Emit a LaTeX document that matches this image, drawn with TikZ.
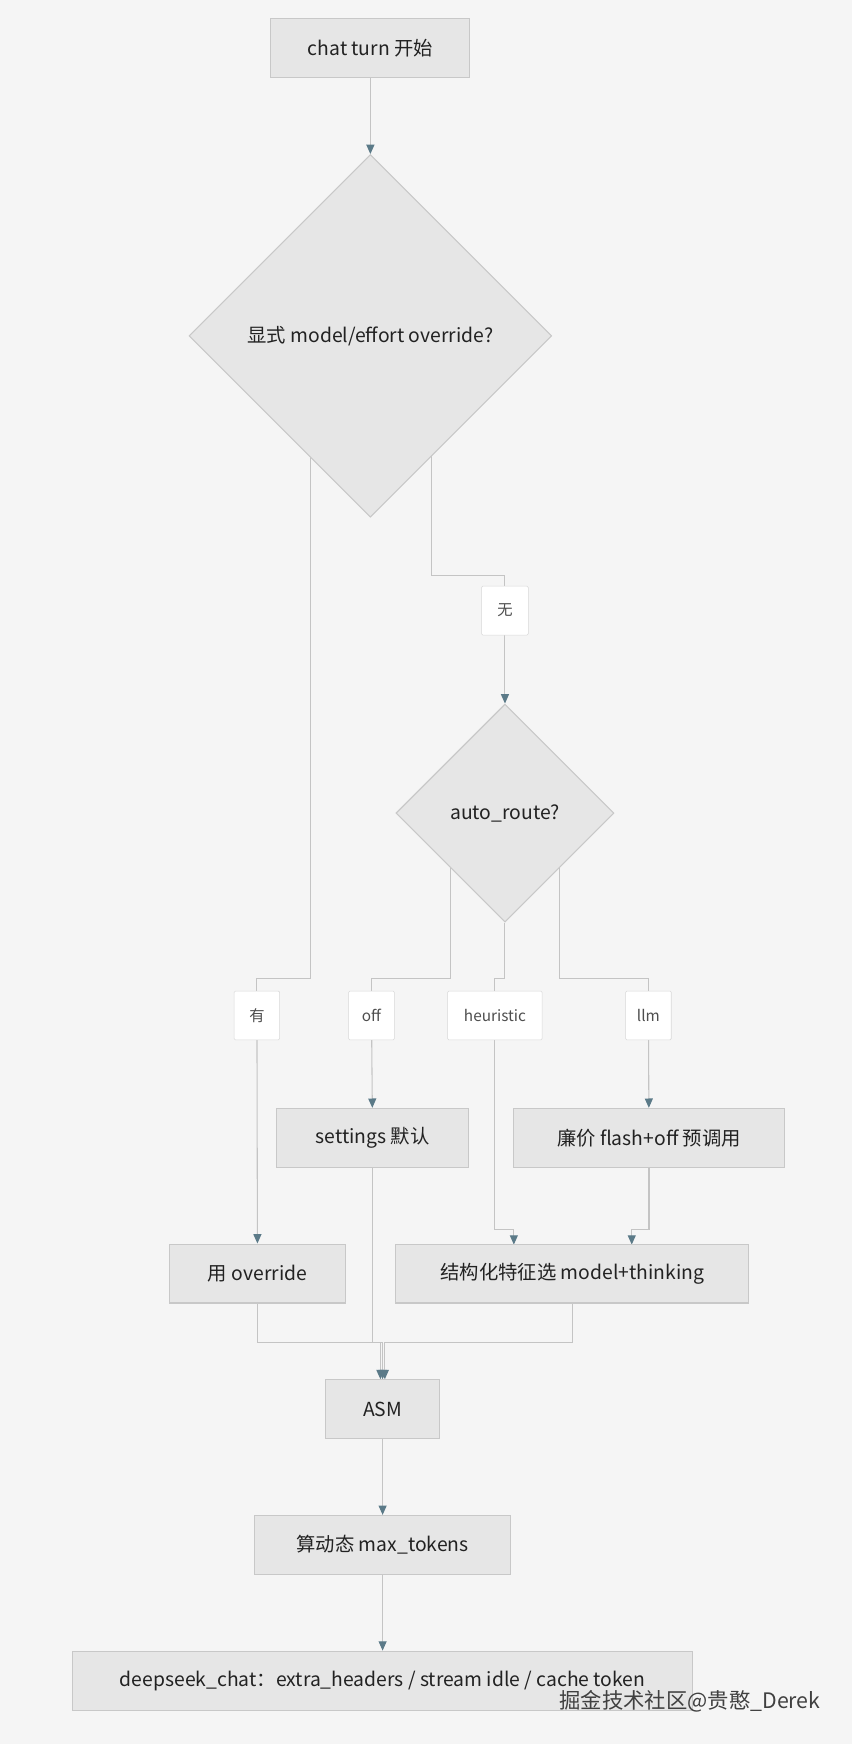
\documentclass[tikz,border=0pt]{standalone}
\usepackage{fontspec}
\setmainfont{Noto Sans CJK SC}
\usetikzlibrary{shapes.geometric,arrows.meta,backgrounds}
\def\uu{0.834pt}
\definecolor{bg}{HTML}{F5F5F5}
\definecolor{boxf}{HTML}{E6E6E6}
\definecolor{boxd}{HTML}{C8C8C8}
\definecolor{ln}{HTML}{C4C4C4}
\definecolor{arr}{HTML}{5B7A88}
\definecolor{txt}{HTML}{222222}
\tikzset{
 box/.style={draw=boxd,fill=boxf,line width=0.8pt,text=txt,font=\fontsize{14.5}{17}\selectfont,inner sep=0pt},
 dia/.style={diamond,draw=boxd,fill=boxf,line width=0.8pt,text=txt,font=\fontsize{14.5}{17}\selectfont,inner sep=0pt},
 lab/.style={draw=boxd!70,fill=white,text=txt!80,font=\fontsize{11.5}{13}\selectfont,inner sep=0pt,minimum height={44*\uu},rounded corners=1pt},
 edge/.style={draw=ln,line width=0.8pt},
 ar/.style={edge,-{Triangle[length=7pt,width=6pt,color=arr]}},
}
\begin{document}
\begin{tikzpicture}[x=\uu,y=-\uu]
\useasboundingbox (0,0) rectangle (766,1568);
\node[box,minimum width={179*\uu},minimum height={53*\uu}] (start) at (333,43) {chat turn 开始};
\node[dia,minimum width={326*\uu},minimum height={326*\uu}] (d1) at (333,302) {显式 model/effort override?};
\node[lab,minimum width={42*\uu}] (wu) at (454,549) {无};
\node[dia,minimum width={196*\uu},minimum height={196*\uu}] (d2) at (454,731) {auto\_route?};
\node[lab,minimum width={41*\uu}] (you) at (231,913) {有};
\node[lab,minimum width={41*\uu}] (off) at (334,913) {off};
\node[lab,minimum width={85*\uu}] (heu) at (445,913) {heuristic};
\node[lab,minimum width={41*\uu}] (llm) at (583,913) {llm};
\node[box,minimum width={172*\uu},minimum height={53*\uu}] (set) at (335,1023) {settings 默认};
\node[box,minimum width={243*\uu},minimum height={53*\uu}] (cheap) at (583.5,1023) {廉价 flash+off 预调用};
\node[box,minimum width={159*\uu},minimum height={53*\uu}] (ovr) at (231.5,1145) {用 override};
\node[box,minimum width={317*\uu},minimum height={53*\uu}] (feat) at (514.5,1145) {结构化特征选 model+thinking};
\node[box,minimum width={102*\uu},minimum height={53*\uu}] (asm) at (344,1267) {ASM};
\node[box,minimum width={230*\uu},minimum height={53*\uu}] (mt) at (344,1389) {算动态 max\_tokens};
\node[box,minimum width={558*\uu},minimum height={53*\uu}] (ds) at (344,1511) {deepseek\_chat：extra\_headers / stream idle / cache token};
\node[text=black!75,font=\fontsize{16}{19}\selectfont,anchor=east] (wm) at (742,1530) {掘金技术社区@贵憨\_Derek};
\begin{scope}[on background layer]
\fill[bg] (0,0) rectangle (766,1568);
\draw[ar] (start) -- (d1);
\draw[edge] ([shift={(-54,109)}]d1.center) |- (231,880) -- (you);
\draw[edge] ([shift={(55,108)}]d1.center) |- (454,517) -- (wu);
\draw[ar] (wu) -- (d2);
\draw[edge] ([shift={(-49,49)}]d2.center) |- (334,880) -- (off);
\draw[edge] (d2.south) |- (445,880) -- (heu);
\draw[edge] ([shift={(49,49)}]d2.center) |- (583,880) -- (llm);
\draw[ar] (you) -- (ovr);
\draw[ar] (off) -- (set);
\draw[ar] (llm) -- (cheap);
\draw[ar] (heu) |- (462,1105) -- (462,1119);
\draw[ar] (cheap) |- (568,1105) -- (568,1119);
\draw[ar] (ovr) |- (342,1207) -- (asm.north -| 342,0);
\draw[ar] (set) |- (344,1207) -- (asm);
\draw[ar] (feat) |- (346,1207) -- (asm.north -| 346,0);
\draw[ar] (asm) -- (mt);
\draw[ar] (mt) -- (ds);
\end{scope}
\end{tikzpicture}
\end{document}
